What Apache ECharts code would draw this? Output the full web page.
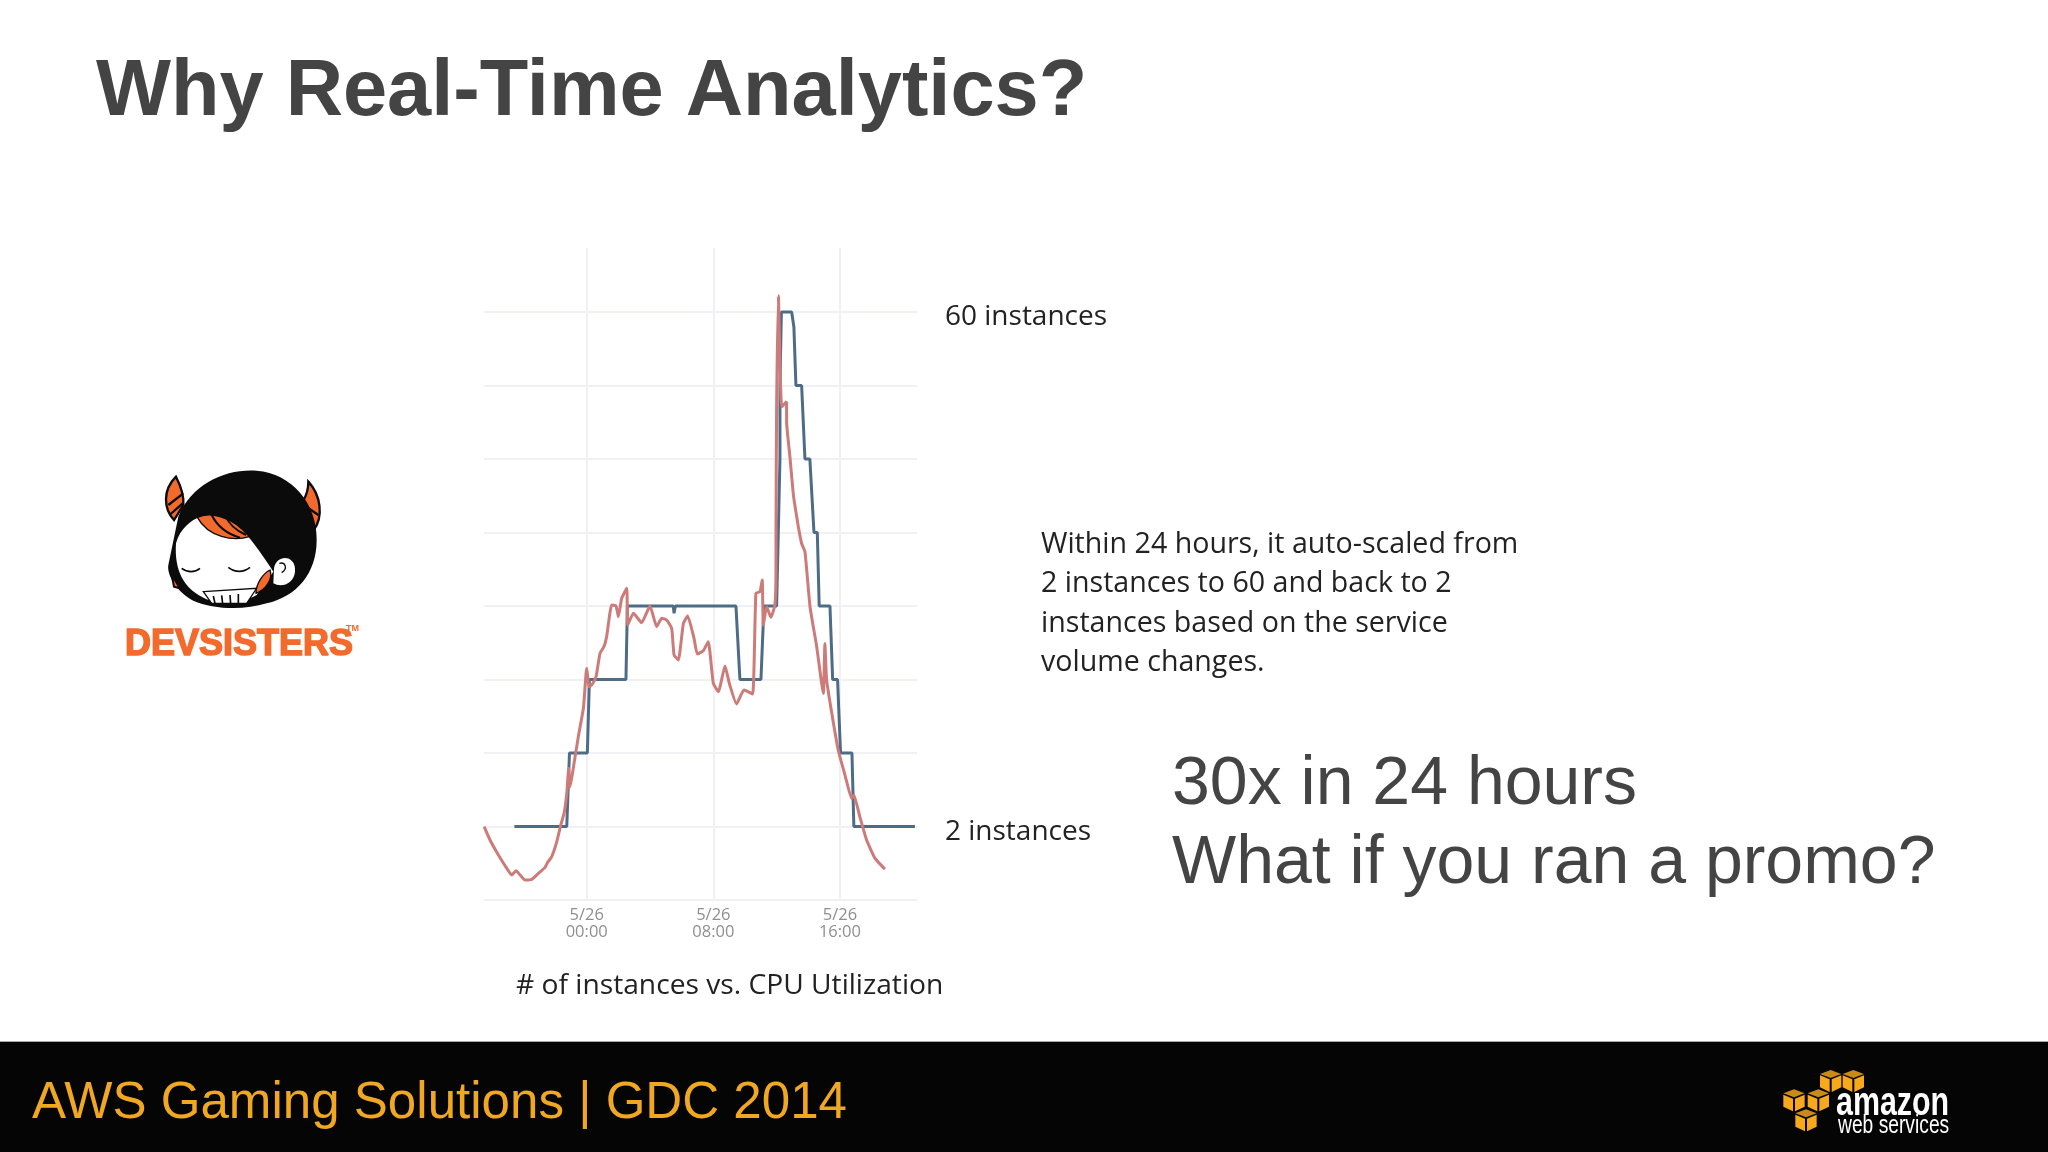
<!DOCTYPE html>
<html>
<head>
<meta charset="utf-8">
<title>Why Real-Time Analytics?</title>
<script src="https://cdn.jsdelivr.net/npm/echarts@6/dist/echarts.min.js"></script>
<style>
html, body { margin: 0; padding: 0; background: #fff; }
#main { width: 2048px; height: 1152px; }
</style>
</head>
<body>
<div id="main"></div>
<script>
// hours relative to 5/26 00:00, y is the chart's own grid scale (10 = 2 instances, 80 = 60 instances)
var instanceHours = [-4.57, -1.26, -1.09, 0.04, 0.17, 2.48, 2.57, 5.47, 5.52, 5.6, 9.43, 9.68, 11.01, 11.2, 12.0, 12.21, 12.21, 12.3, 12.95, 13.09, 13.22, 13.58, 13.79, 14.1, 14.36, 14.57, 14.69, 15.37, 15.54, 15.85, 16.04, 16.76, 16.88, 20.74];
var instanceLevels = [10, 10, 20, 20, 30, 30, 40, 40, 39, 40, 40, 30, 30, 40, 40, 60, 70, 80, 80, 78, 70, 70, 60, 60, 50, 50, 40, 40, 30, 30, 20, 20, 10, 10];

var cpuHours = [-6.48, -6.11, -5.58, -5.05, -4.74, -4.46, -4.21, -3.89, -3.47, -3.05, -2.63, -2.48, -2.21, -1.89, -1.64, -1.43, -1.26, -1.14, -1.05, -0.8, -0.53, -0.21, 0, 0.15, 0.32, 0.59, 0.84, 1.09, 1.26, 1.58, 1.85, 2.0, 2.21, 2.53, 2.59, 2.95, 3.47, 4.0, 4.42, 4.74, 5.05, 5.37, 5.52, 5.79, 6.11, 6.38, 6.78, 6.99, 7.37, 7.68, 8.0, 8.32, 8.74, 9.01, 9.47, 9.94, 10.48, 10.69, 10.95, 11.09, 11.16, 11.37, 11.64, 11.89, 11.96, 11.96, 12.0, 12.11, 12.32, 12.63, 12.63, 12.84, 13.01, 13.09, 13.37, 13.58, 13.79, 14.11, 14.53, 14.95, 15.05, 15.16, 15.47, 15.89, 16.32, 16.74, 16.88, 17.26, 17.68, 18.21, 18.84];
var cpuLevels = [9.98, 8.16, 6.12, 4.31, 3.4, 3.99, 3.4, 2.72, 2.81, 3.63, 4.44, 5.08, 5.9, 7.94, 10.2, 11.79, 14.51, 17.91, 15.42, 18.59, 22.22, 26.08, 31.52, 29.02, 29.25, 30.39, 33.56, 34.47, 35.83, 40.14, 40.0, 38.55, 41.04, 42.4, 37.41, 39.0, 37.73, 40.0, 37.19, 38.32, 38.1, 36.96, 33.33, 32.65, 37.64, 38.64, 35.6, 33.47, 33.92, 35.15, 29.48, 28.34, 31.84, 29.48, 26.67, 28.57, 28.03, 41.72, 41.95, 43.54, 37.41, 39.91, 38.46, 40.14, 44.9, 49.9, 67.1, 82.2, 67.1, 67.8, 65.1, 60.3, 56.2, 54.6, 50.8, 48.5, 47.4, 39.9, 34.5, 28.1, 34.9, 29.9, 25.6, 20.4, 17.0, 13.8, 14.3, 11.3, 8.2, 5.7, 4.2];

var xTicks = [0, 8, 16];
var xTickLabels = ['5/26\n00:00', '5/26\n08:00', '5/26\n16:00'];
var yTicks = [0, 10, 20, 30, 40, 50, 60, 70, 80];

var descriptionLines = ['Within 24 hours, it auto-scaled from', '2 instances to 60 and back to 2', 'instances based on the service', 'volume changes.'];
var promoLines = ['30x in 24 hours', 'What if you ran a promo?'];

var GRID_COLOR = '#f1f1f5';
var ORANGE = '#f26b2d';
var AWS_ORANGE = '#f7a81b';

var shapeCount = 0;

function pairs(xs, ys) {
    return xs.map(function (x, i) {
        return [x, ys[i]];
    });
}

function label(text, x, y, size, family, color, weight) {
    return {
        type: 'text',
        silent: true,
        style: {
            text: text,
            x: x,
            y: y,
            fontSize: size,
            fontFamily: family,
            fontWeight: weight || 'normal',
            fill: color,
            verticalAlign: 'middle'
        }
    };
}

function lines(list, x, y, step, size, family, color) {
    return list.map(function (text, i) {
        return label(text, x, y + i * step, size, family, color);
    });
}

// squeezed text for the logo wordmark, there is no condensed font to hand
function squeezed(text, x, y, size, color, weight, squeeze) {
    var el = label(text, 0, 0, size, '"Liberation Sans"', color, weight);
    el.x = x;
    el.y = y;
    el.scaleX = squeeze;
    return el;
}

// the graphic component has no plain 'path' type, so each outline gets registered
function pathShape(path, fill, stroke, width) {
    var name = 'logoPath' + (shapeCount++);
    echarts.graphic.registerShape(name, echarts.graphic.extendPath(path));
    return {
        type: name,
        silent: true,
        style: { fill: fill || 'none', stroke: stroke || 'none', lineWidth: width || 0 }
    };
}

function devsistersLogo() {
    var black = '#0b0b0b';
    // drawn in zoomed logo units, the group scales it back down
    return {
        type: 'group',
        x: 100,
        y: 440,
        scaleX: 1 / 3,
        scaleY: 1 / 3,
        children: [
            pathShape('M228,110 C248,150 252,175 250,195 L222,240 C190,205 188,150 228,110 Z', ORANGE, black, 7),
            pathShape('M625,125 C662,165 672,230 640,272 C605,282 565,255 568,225 C600,205 625,170 625,125 Z', ORANGE, black, 7),
            pathShape('M205,195 L250,160 M212,222 L248,190 M580,212 L640,262 M604,190 L655,225', null, black, 7),
            pathShape('M235,230 C275,130 380,85 470,92 C575,100 652,190 650,300 C650,400 590,470 500,490 C430,512 340,508 280,482 C230,455 200,405 205,375 Z', black),
            pathShape('M215,405 L240,445 L222,440 Z', ORANGE, black, 6),
            pathShape('M228,310 C240,265 275,240 298,232 C330,280 400,302 445,290 C470,320 505,370 520,395 L470,465 C420,495 340,492 305,470 C255,445 222,395 228,310 Z', '#fff'),
            pathShape('M292,232 C325,215 395,225 448,290 C400,305 325,292 292,232 Z', ORANGE, black, 4),
            pathShape('M335,225 C350,255 375,280 420,293 M375,225 C385,250 405,270 438,285', null, black, 6),
            pathShape('M245,385 C262,398 285,398 300,385 M385,382 C405,398 430,398 450,382', null, black, 5),
            pathShape('M310,455 L470,445 L440,490 L335,490 Z', '#fff', black, 4),
            pathShape('M340,468 L345,490 M365,466 L368,492 M390,465 L392,492 M415,462 L415,490', null, black, 5),
            pathShape('M510,390 C520,420 495,450 468,460 C468,430 490,400 510,390 Z', ORANGE, black, 4),
            pathShape('M522,385 C530,340 590,345 585,395 C582,430 545,445 520,430 Z', '#fff'),
            pathShape('M538,370 C555,365 565,385 545,398', null, black, 4)
        ]
    };
}

function awsCube(cx, cy) {
    // one cube of the AWS mark, three faces around the centre point
    var w = 32;
    var h = 12;
    var body = 48;
    var top = 'M' + cx + ',' + (cy - 32) + ' L' + (cx + w) + ',' + (cy - 32 + h) + ' L' + cx + ',' + (cy - 32 + 2 * h) + ' L' + (cx - w) + ',' + (cy - 32 + h) + ' Z';
    var left = 'M' + (cx - w) + ',' + (cy - 32 + h + 4) + ' L' + (cx - 3) + ',' + (cy - 32 + 2 * h + 4) + ' L' + (cx - 3) + ',' + (cy - 32 + body + h + 6) + ' L' + (cx - w) + ',' + (cy - 32 + body + 4) + ' Z';
    var right = 'M' + (cx + w) + ',' + (cy - 32 + h + 4) + ' L' + (cx + 3) + ',' + (cy - 32 + 2 * h + 4) + ' L' + (cx + 3) + ',' + (cy - 32 + body + h + 6) + ' L' + (cx + w) + ',' + (cy - 32 + body + 4) + ' Z';
    return [
        pathShape(top, '#c98a18'),
        pathShape(left, AWS_ORANGE),
        pathShape(right, AWS_ORANGE)
    ];
}

function awsLogo() {
    var centers = [[272, 122], [340, 122], [162, 180], [235, 180], [198, 240]];
    var kids = [];
    centers.forEach(function (c) {
        kids = kids.concat(awsCube(c[0], c[1]));
    });
    return {
        type: 'group',
        x: 1740,
        y: 1040,
        scaleX: 1 / 3,
        scaleY: 1 / 3,
        children: kids
    };
}

function slideGraphics() {
    var items = [
        { type: 'rect', silent: true, shape: { x: 0, y: 1041, width: 2048, height: 111 }, style: { fill: '#050505' } },
        { type: 'rect', silent: true, shape: { x: 0, y: 1041, width: 2048, height: 1 }, style: { fill: '#a8a8a8' } },
        label('Why Real-Time Analytics?', 96, 93, 79.4, '"Liberation Sans"', '#444444', 'bold'),
        label('60 instances', 945, 317, 28, '"Open Sans"', '#222222'),
        label('2 instances', 945, 832, 28, '"Open Sans"', '#222222'),
        label('# of instances vs. CPU Utilization', 516, 986, 28.2, '"Open Sans"', '#222222'),
        label('AWS Gaming Solutions | GDC 2014', 32, 1104, 51.1, '"Liberation Sans"', '#f0a823'),
        devsistersLogo(),
        {
            type: 'text',
            silent: true,
            style: {
                text: 'DEVSISTERS',
                x: 125,
                y: 645,
                fontSize: 36,
                fontFamily: '"Liberation Sans"',
                fontWeight: 'bold',
                fill: ORANGE,
                stroke: ORANGE,
                lineWidth: 1.5,
                verticalAlign: 'middle'
            }
        },
        label('TM', 346, 629, 9, '"Liberation Sans"', ORANGE, 'bold'),
        awsLogo(),
        squeezed('amazon', 1836, 1104, 40, '#ffffff', 'bold', 0.76),
        squeezed('web services', 1838, 1126, 26, '#ffffff', 'normal', 0.74)
    ];
    items = items.concat(lines(descriptionLines, 1041, 545, 39.2, 28.6, '"Open Sans"', '#222222'));
    items = items.concat(lines(promoLines, 1172, 785, 79, 68, '"Liberation Sans"', '#444444'));
    return items;
}

function buildOption() {
    return {
        animation: false,
        backgroundColor: '#ffffff',
        grid: {
            left: 484,
            right: 1131,
            top: 248,
            bottom: 252
        },
        xAxis: {
            type: 'value',
            min: -6.49,
            max: 20.87,
            axisLine: { show: false },
            axisTick: { show: false, customValues: xTicks },
            splitLine: { show: true, lineStyle: { color: GRID_COLOR, width: 2 } },
            axisLabel: {
                customValues: xTicks,
                margin: 7,
                fontSize: 16.5,
                lineHeight: 17,
                fontFamily: '"Open Sans"',
                color: '#8f8f8f',
                formatter: function (value) {
                    return xTickLabels[xTicks.indexOf(value)];
                }
            }
        },
        yAxis: {
            type: 'value',
            min: 0,
            max: 88.7,
            axisLine: { show: false },
            axisTick: { show: false, customValues: yTicks },
            axisLabel: { show: false },
            splitLine: { show: true, lineStyle: { color: GRID_COLOR, width: 2 } }
        },
        series: [
            {
                name: '# of instances',
                type: 'line',
                symbol: 'none',
                clip: false,
                data: pairs(instanceHours, instanceLevels),
                lineStyle: { color: '#4f6c86', width: 3 }
            },
            {
                name: 'CPU Utilization',
                type: 'line',
                symbol: 'none',
                clip: false,
                smooth: 0.15,
                data: pairs(cpuHours, cpuLevels),
                lineStyle: { color: '#cc7b79', width: 3 }
            }
        ],
        graphic: slideGraphics()
    };
}

var chart = echarts.init(document.getElementById('main'));
chart.setOption(buildOption());
</script>
</body>
</html>
